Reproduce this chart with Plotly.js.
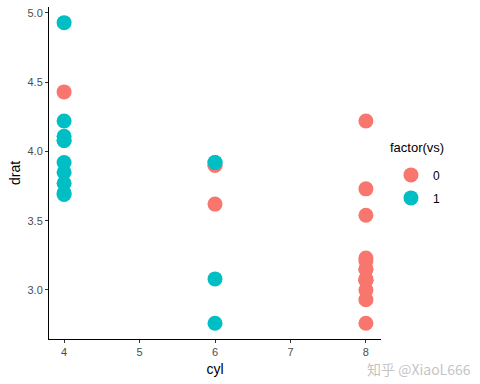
<!DOCTYPE html>
<html><head><meta charset="utf-8">
<script src="https://cdn.plot.ly/plotly-3.0.1.min.js"></script>
<style>html,body{margin:0;padding:0;background:#fff}</style>
</head><body>
<div id="chart" style="width:480px;height:384px"></div>
<script>
// mtcars: cyl, drat, vs (row order)
const cyl  = [6,6,4,6,8,6,8,4,4,6,6,8,8,8,8,8,8,4,4,4,4,8,8,8,8,4,4,4,8,6,8,4];
const drat = [3.90,3.90,3.85,3.08,3.15,2.76,3.21,3.69,3.92,3.92,3.92,3.07,3.07,3.07,2.93,3.00,3.23,4.08,4.93,4.22,3.70,2.76,3.15,3.73,3.08,4.08,4.43,3.77,4.22,3.62,3.54,4.11];
const vs   = [0,0,1,1,0,1,0,1,1,1,1,0,0,0,0,0,0,1,1,1,1,0,0,0,0,1,0,1,0,0,0,1];
const groups = ["0","1"];
const colors = ["#F8766D","#00BFC4"];
const xTicks = [4,5,6,7,8];
const yTicks = [3.0,3.5,4.0,4.5,5.0];
const yTickText = ["3.0","3.5","4.0","4.5","5.0"];
const legendTitle = "factor(vs)";

const traces = groups.map((g,i)=>{
  const xs=[], ys=[];
  for(let k=0;k<cyl.length;k++){ if(String(vs[k])===g){ xs.push(cyl[k]); ys.push(drat[k]); } }
  return {x:xs,y:ys,type:'scatter',mode:'markers',name:g,legendgroup:'g'+g,
    marker:{color:colors[i],size:15,line:{width:0}},hoverinfo:'none'};
});

const ff = '"Liberation Sans", Arial, sans-serif';
const layout = {
  width:480,height:384,
  margin:{l:49,r:99,t:7,b:45},
  paper_bgcolor:'#fff',plot_bgcolor:'#fff',
  font:{family:ff},
  showlegend:true,
  xaxis:{range:[3.8,8.2],tickvals:xTicks,ticktext:xTicks.map(String),
    showgrid:false,zeroline:false,showline:true,linecolor:'#000',linewidth:1,
    ticks:'outside',ticklen:3,tickcolor:'#333',
    tickfont:{size:11,color:'#4D4D4D',family:ff},
    title:{text:'cyl',font:{size:14,color:'#000',family:ff},standoff:6}},
  yaxis:{range:[2.646,5.043],tickvals:yTicks,ticktext:yTickText,
    showgrid:false,zeroline:false,showline:true,linecolor:'#000',linewidth:1,
    ticks:'outside',ticklen:3,tickcolor:'#333',
    tickfont:{size:11,color:'#4D4D4D',family:ff},
    title:{text:'drat',font:{size:14,color:'#000',family:ff},standoff:3}},
  legend:{x:1.024,xanchor:'left',y:0.538,yanchor:'top',
    font:{size:12,color:'#000',family:ff},itemwidth:34,
    itemsizing:'trace',tracegroupgap:4,bgcolor:'rgba(0,0,0,0)'},
  annotations:[
    {text:legendTitle,xref:'paper',yref:'paper',x:(388-49)/332,y:(339-148)/332,
      xanchor:'left',yanchor:'middle',showarrow:false,
      font:{size:13,color:'#000',family:ff}},
    {text:'知乎 @XiaoL666',xref:'paper',yref:'paper',x:(472-49)/332,y:(339-369)/332,
    xanchor:'right',yanchor:'middle',showarrow:false,borderpad:0,
    font:{size:14,color:'rgba(175,175,175,0.75)',family:'"Noto Sans CJK SC", sans-serif'}}]
};
Plotly.newPlot('chart',traces,layout,{displayModeBar:false,staticPlot:true});
</script>
</body></html>
